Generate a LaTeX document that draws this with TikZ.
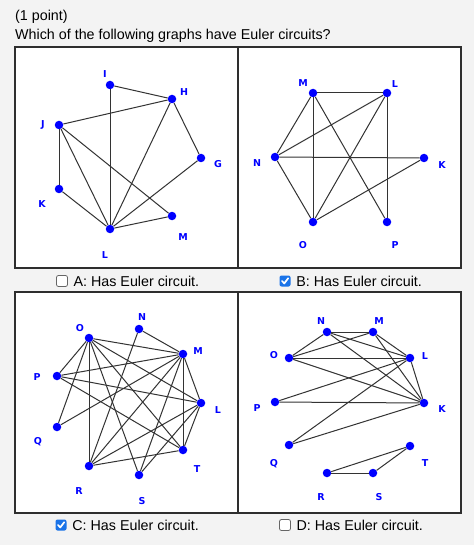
\documentclass[tikz,border=0pt]{standalone}
\usepackage{fontspec}
\setmainfont{Liberation Sans}
\newfontfamily\labfont{DejaVu Sans}
\usetikzlibrary{positioning}
\usepackage{xcolor}
\definecolor{pagegray}{HTML}{F3F3F3}
\definecolor{framedark}{HTML}{2E2E2E}
\definecolor{edgegray}{HTML}{333333}
\definecolor{vblue}{HTML}{0000FF}
\definecolor{tickblue}{HTML}{1A73E8}
\tikzset{
  panel/.style={draw=framedark, line width=1.6pt, fill=white, inner sep=0pt},
  vert/.style={circle, fill=vblue, inner sep=0pt, minimum size=8.5pt},
  vlab/.style={text=vblue, font=\labfont\bfseries\fontsize{9.5}{10}\selectfont, inner sep=0pt},
  edge/.style={draw=edgegray, line width=1pt},
  caption/.style={font=\fontsize{14.3}{17}\selectfont, inner sep=0pt},
  tickbox/.style={rounded corners=2pt, minimum size=11pt, inner sep=0pt},
  emptybox/.style={tickbox, draw=gray!80!black, fill=white, line width=0.8pt},
  fullbox/.style={tickbox, fill=tickblue},
  tick/.style={draw=white, line width=1.7pt, line cap=round, line join=round}
}

\begin{document}
\begin{tikzpicture}[x=1pt, y=-1pt]
  \useasboundingbox[fill=pagegray] (0,0) rectangle (474,545);
  \node[caption, anchor=base west] (points) at (15,21) {(1 point)};
  \node[caption, anchor=base west] (question) at (15,40) {Which of the following graphs have Euler circuits?};

  % the four graph panels
  \node[panel, minimum width=223pt, minimum height=221pt] (panelA) at (126.5,157.5) {};
  \node[panel, minimum width=223pt, minimum height=221pt] (panelB) at (349.5,157.5) {};
  \node[panel, minimum width=223pt, minimum height=221pt] (panelC) at (126.5,402.5) {};
  \node[panel, minimum width=223pt, minimum height=221pt] (panelD) at (349.5,402.5) {};

  % graph A
  \foreach \n/\x/\y/\lx/\ly in {I/110/85/105/74, H/172/99/184/92, J/59/125/43/125,
      G/201/158/218/164, K/59/189/42/204, M/172/216/183/237, L/110/229/105/255}{
    \node[vert] (a\n) at (\x,\y) {};
    \node[vlab] (a\n-l) at (\lx,\ly) {\n};
  }
  \foreach \u/\v in {I/H, I/L, H/J, H/G, H/L, J/K, J/L, J/M, K/L, G/L, M/L}
    \draw[edge] (a\u) -- (a\v);

  % graph B
  \foreach \n/\x/\y/\lx/\ly in {M/313/93/303/83, L/387/93/395/84, N/275/157/257/163,
      K/424/158/442/165, O/313/222/303/245, P/387/222/395/245}{
    \node[vert] (b\n) at (\x,\y) {};
    \node[vlab] (b\n-l) at (\lx,\ly) {\n};
  }
  \foreach \u/\v in {M/L, M/N, M/O, M/P, L/N, L/O, L/P, N/K, N/O, K/O}
    \draw[edge] (b\u) -- (b\v);

  % graph C
  \foreach \n/\x/\y/\lx/\ly in {N/139/329/142/317, O/89/338/80/328, M/183/354/198/351,
      P/57/376/37/377, L/201/403/218/410, Q/57/427/38/442, T/183/450/197/469,
      R/89/466/79/491, S/139/475/142/501}{
    \node[vert] (c\n) at (\x,\y) {};
    \node[vlab] (c\n-l) at (\lx,\ly) {\n};
  }
  \foreach \u/\v in {O/M, O/P, O/Q, O/R, O/S, O/T, O/L, N/M, N/R, M/P, M/Q, M/R,
      M/S, M/T, M/L, L/T, L/P, L/R, L/S, P/T, R/T}
    \draw[edge] (c\u) -- (c\v);

  % graph D
  \foreach \n/\x/\y/\lx/\ly in {N/327/332/321/321, M/373/332/379/321, O/289/358/274/355,
      L/410/358/425/356, P/275/402/257/408, K/424/403/442/409, Q/289/445/274/464,
      T/410/446/425/463, R/327/473/321/497, S/373/473/379/497}{
    \node[vert] (d\n) at (\x,\y) {};
    \node[vlab] (d\n-l) at (\lx,\ly) {\n};
  }
  \foreach \u/\v in {N/M, N/O, N/L, N/K, M/O, M/L, M/K, O/L, O/K, L/P, L/K, L/Q,
      P/K, Q/K, R/T, R/S, S/T}
    \draw[edge] (d\u) -- (d\v);

  % answer check boxes
  \node[emptybox] (boxA) at (62,281) {};
  \node[caption, right=5.5pt of boxA] (capA) {A: Has Euler circuit.};
  \node[fullbox] (boxB) at (285,281) {};
  \node[caption, right=5.5pt of boxB] (capB) {B: Has Euler circuit.};
  \node[fullbox] (boxC) at (61,525) {};
  \node[caption, right=5.5pt of boxC] (capC) {C: Has Euler circuit.};
  \node[emptybox] (boxD) at (285,525) {};
  \node[caption, right=5.5pt of boxD] (capD) {D: Has Euler circuit.};
  \foreach \b in {boxB, boxC}
    \draw[tick] ([xshift=-3pt]\b.center) -- ([xshift=-0.7pt, yshift=-2.4pt]\b.center)
      -- ([xshift=3.2pt, yshift=2.8pt]\b.center);
\end{tikzpicture}
\end{document}
